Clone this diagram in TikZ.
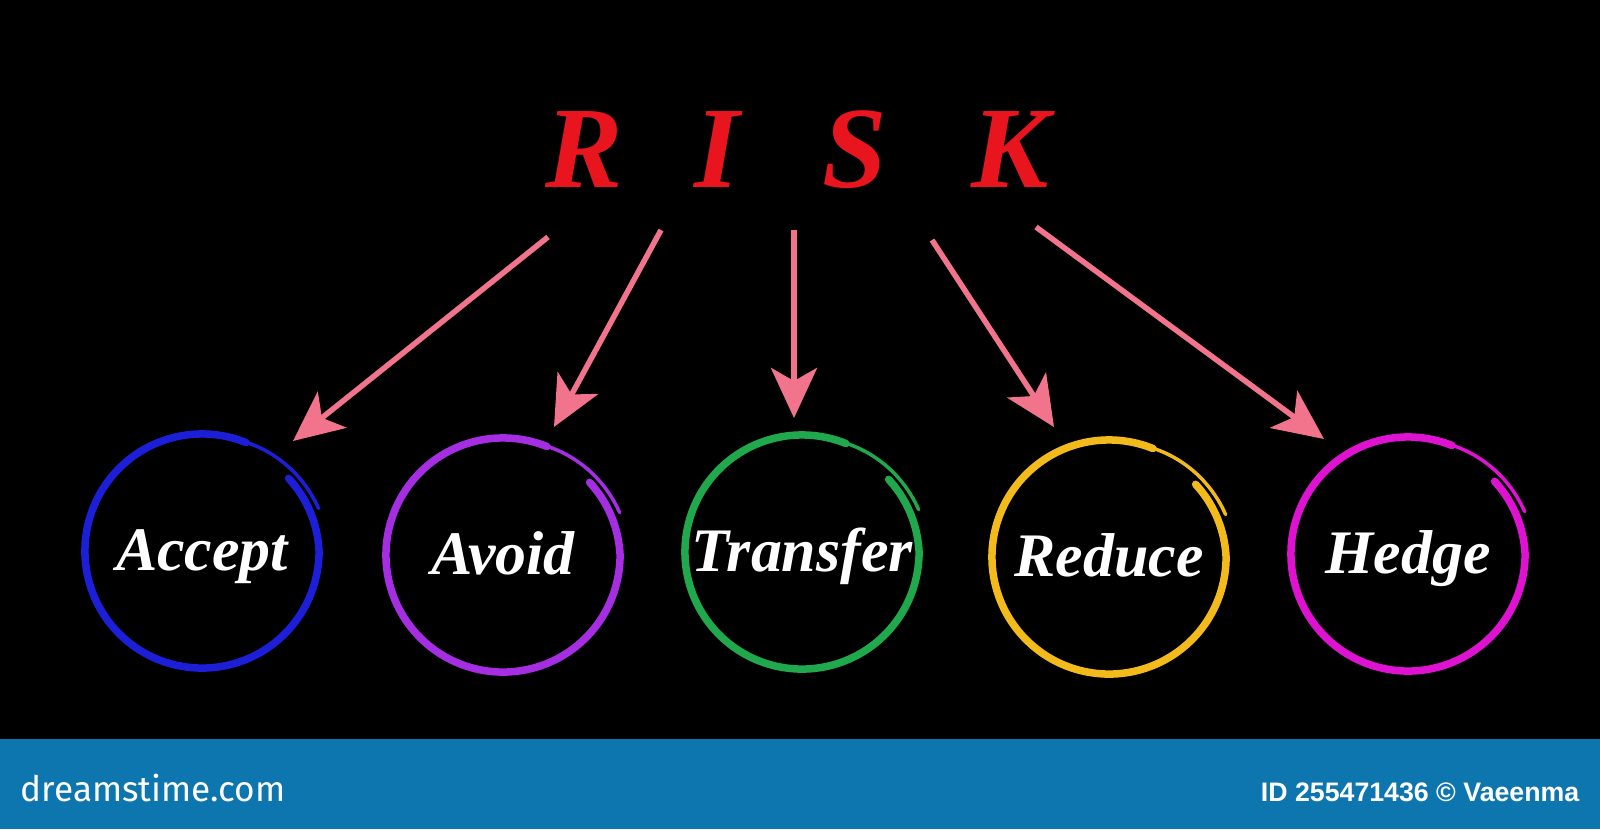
\documentclass[tikz,border=0pt]{standalone}
\usepackage{fontspec}
\setmainfont{Liberation Serif}
\newfontfamily\sitefont{Fira Sans}
\newfontfamily\creditfont{Liberation Sans}
\usetikzlibrary{arrows.meta}
\definecolor{riskred}{RGB}{232,20,30}
\definecolor{arrowpink}{RGB}{242,116,140}
\definecolor{cAccept}{RGB}{28,30,216}
\definecolor{cAvoid}{RGB}{166,46,226}
\definecolor{cTransfer}{RGB}{32,168,76}
\definecolor{cReduce}{RGB}{242,186,26}
\definecolor{cHedge}{RGB}{224,18,210}
\definecolor{barblue}{RGB}{14,118,174}
\tikzstyle{letter}=[text=riskred,font=\fontsize{33}{36}\selectfont\bfseries\itshape,inner sep=0pt,anchor=base]
\tikzstyle{option}=[circle,minimum size=2.34cm,text=white,font=\fontsize{17.6}{20}\selectfont\bfseries\itshape,inner sep=0pt,text height=0.47cm,text depth=0.09cm]
\tikzstyle{ring}=[line width=0.075cm,line cap=round]
\tikzstyle{tail}=[line width=0.035cm,line cap=round]
\tikzstyle{link}=[draw=arrowpink,line width=0.055cm,-{Stealth[length=0.5cm,width=0.46cm,inset=0.13cm]}]

\begin{document}
\begin{tikzpicture}[x=0.01cm,y=0.01cm]
    % Background and bottom bar
    \fill[black] (0,0) rectangle (1600,829);
    \useasboundingbox (0,0) rectangle (1600,829);
    \fill[barblue] (0,0) rectangle (1600,90);
    \node[anchor=base west,text=white,font=\sitefont\fontsize{10}{12}\selectfont,inner sep=0pt] (site) at (20,28) {dreamstime.com};
    \node[anchor=base east,text=white,font=\creditfont\fontsize{7.6}{9}\selectfont\bfseries,inner sep=0pt] (credit) at (1580,28) {ID 255471436 © Vaeenma};

    % The title letters
    \foreach \x/\l in {584/R, 717/I, 855/S, 1010/K}
        \node[letter] (risk\l) at (\x,642) {\l};

    % The five answers, each in a hand drawn ring
    \foreach \pos/\name in {{(202,278)/Accept}, {(503,274)/Avoid}, {(802,277)/Transfer}, {(1109,272)/Reduce}, {(1408,275)/Hedge}}
    {
        \node[option] (\name) at \pos {\name};
        \begin{scope}[shift={(\name.center)}]
            % one stroke round, starting a little inside
            \draw[ring,c\name] plot[smooth,domain=40:-292,samples=84] (\x:{1.17cm-max(0,\x)*0.001cm});
            % thin end running out past the start
            \draw[tail,c\name] plot[smooth,domain=-290:-340,samples=14] (\x:{1.17cm+(-290-\x)*0.0014cm});
        \end{scope}
    }

    % Arrow ends
    \coordinate (from1) at (548,592);
    \coordinate (from2) at (661,599);
    \coordinate (from3) at (794,599);
    \coordinate (from4) at (932,589);
    \coordinate (from5) at (1036,602);
    \coordinate (tip1) at (293,388);
    \coordinate (tip2) at (554,402);
    \coordinate (tip3) at (794,411);
    \coordinate (tip4) at (1054,402);
    \coordinate (tip5) at (1324,390);

    % Connect title with answers
    \foreach \n in {1,...,5}
        \path[link] (from\n) -- (tip\n);
\end{tikzpicture}
\end{document}
